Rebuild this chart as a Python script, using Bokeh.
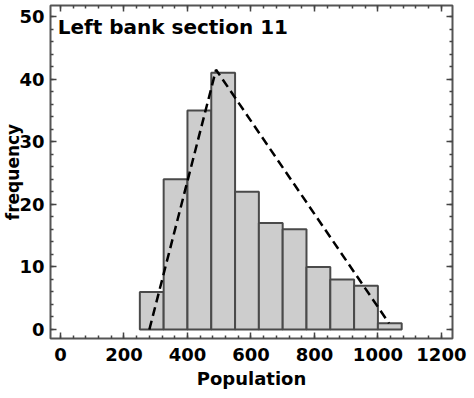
from bokeh.plotting import figure
from bokeh.models import Range1d, SingleIntervalTicker, LinearAxis, Label, CustomJSTickFormatter
from bokeh.embed import file_html
from bokeh.resources import INLINE

# ---- data ----
bin_edges = [250, 325, 400, 475, 550, 625, 700, 775, 850, 925, 1000, 1075]
frequency = [6, 24, 35, 41, 22, 17, 16, 10, 8, 7, 1]
fit_x = [280, 490, 1035]
fit_y = [0, 41.5, 1]
title_text = "Left bank section 11"
x_label = "Population"
y_label = "frequency"

FONT = "DejaVu Sans"

p = figure(width=474, height=392, output_backend="svg", toolbar_location=None,
           x_range=Range1d(-31.5, 1235), y_range=Range1d(-1.44, 51.76),
           min_border_left=50, min_border_right=22, min_border_top=5,
           min_border_bottom=54)
p.grid.visible = False
p.outline_line_color = "#555555"
p.outline_line_width = 2
p.background_fill_color = "white"
p.border_fill_color = "white"

# bars
p.quad(left=bin_edges[:-1], right=bin_edges[1:], bottom=0, top=frequency,
       fill_color="#cdcdcd", line_color="#4a4a4a", line_width=2)

# dashed fit triangle
p.line(fit_x, fit_y, line_color="black", line_width=2.5, line_dash="9 5")

def style(ax, standoff=6, labels=True):
    ax.axis_line_color = None
    ax.major_tick_in = 6
    ax.major_tick_out = 0
    ax.minor_tick_in = 3
    ax.minor_tick_out = 0
    ax.major_tick_line_color = "#444444"
    ax.minor_tick_line_color = "#444444"
    ax.major_tick_line_width = 1.5
    ax.minor_tick_line_width = 1.5
    if labels:
        ax.major_label_text_font = FONT
        ax.major_label_text_font_style = "bold"
        ax.major_label_text_font_size = "18px"
        ax.major_label_text_color = "black"
        ax.major_label_standoff = standoff
    else:
        ax.formatter = CustomJSTickFormatter(code="return ''")
        ax.major_label_standoff = 0

p.xaxis.ticker = SingleIntervalTicker(interval=200, num_minor_ticks=5)
p.yaxis.ticker = SingleIntervalTicker(interval=10, num_minor_ticks=5)
for ax in p.xaxis:
    style(ax, standoff=9)
    ax.axis_label = x_label
    ax.axis_label_text_font = FONT
    ax.axis_label_text_font_style = "bold"
    ax.axis_label_text_font_size = "18px"
    ax.axis_label_text_color = "black"
    ax.axis_label_standoff = 4
for ax in p.yaxis:
    style(ax, standoff=6)
    ax.axis_label = y_label
    ax.axis_label_text_font = FONT
    ax.axis_label_text_font_style = "bold"
    ax.axis_label_text_font_size = "17px"
    ax.axis_label_text_color = "black"
    ax.axis_label_standoff = -7

top_ax = LinearAxis(ticker=SingleIntervalTicker(interval=200, num_minor_ticks=5))
style(top_ax, labels=False)
right_ax = LinearAxis(ticker=SingleIntervalTicker(interval=10, num_minor_ticks=5))
style(right_ax, labels=False)
p.add_layout(top_ax, "above")
p.add_layout(right_ax, "right")

p.add_layout(Label(x=-9, y=48.3, text=title_text, text_font=FONT,
                   text_font_style="bold", text_font_size="20px",
                   text_color="black", text_baseline="alphabetic"))

open("out.html", "w").write(file_html(p, INLINE))
